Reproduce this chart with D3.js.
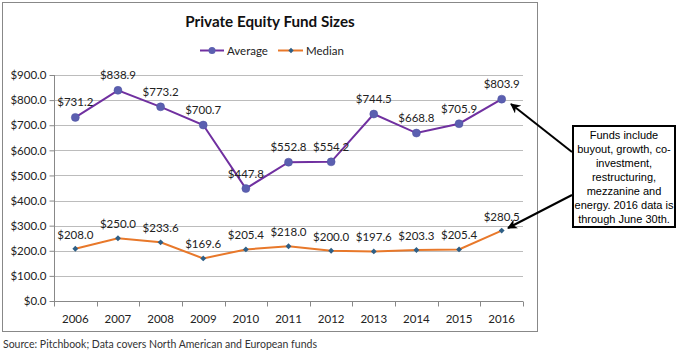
<!DOCTYPE html>
<html><head><meta charset="utf-8">
<script src="https://cdn.jsdelivr.net/npm/d3@7"></script>
<style>body{margin:0;background:#fff}svg{display:block}</style>
</head><body>
<script>
const years = ["2006","2007","2008","2009","2010","2011","2012","2013","2014","2015","2016"];
const average = [731.2,838.9,773.2,700.7,447.8,552.8,554.2,744.5,668.8,705.9,803.9];
const median = [208.0,250.0,233.6,169.6,205.4,218.0,200.0,197.6,203.3,205.4,280.5];
const yTicks = [0,100,200,300,400,500,600,700,800,900];
const noteLines = ["Funds include","buyout, growth, co-","investment,","restructuring,","mezzanine and","energy. 2016 data is","through June 30th."];

const W=679,H=353;
const svg=d3.select("body").append("svg").attr("width",W).attr("height",H);
const font="Lato, 'Open Sans', sans-serif";
svg.append("rect").attr("x",2.5).attr("y",2.5).attr("width",535).attr("height",329).attr("fill","#fff").attr("stroke","#888").attr("stroke-width",1);

const x=d3.scaleBand().domain(years).range([54,523]);
const y=d3.scaleLinear().domain([0,900]).range([301,75]);

// gridlines
svg.append("g").selectAll("line").data(yTicks.filter(d=>d>0)).join("line")
 .attr("x1",54).attr("x2",523).attr("y1",d=>Math.round(y(d))+0.5).attr("y2",d=>Math.round(y(d))+0.5)
 .attr("stroke","#bcbcbc");

// y axis
const ya=svg.append("g").attr("transform","translate(54.5,0)")
 .call(d3.axisLeft(y).tickValues(yTicks).tickSize(5).tickFormat(d=>"$"+d3.format(".1f")(d)));
ya.select(".domain").attr("stroke","#888").attr("d","M0,75V301.5");
ya.selectAll(".tick line").attr("stroke","#888");
ya.selectAll("text").attr("font-family",font).attr("font-size",11.5).attr("fill","#222").attr("x",-8);

// x axis
const xa=svg.append("g").attr("transform","translate(0,301.5)")
 .call(d3.axisBottom(x).tickSize(0).tickPadding(13));
xa.select(".domain").attr("stroke","#888").attr("d","M54,0H523");
xa.selectAll("text").attr("font-family",font).attr("font-size",11.5).attr("fill","#222");
xa.append("g").selectAll("line").data(years.map(d=>x(d)).concat([523])).join("line")
 .attr("x1",d=>Math.round(d)+0.5).attr("x2",d=>Math.round(d)+0.5).attr("y1",0).attr("y2",5).attr("stroke","#888");

const cx=d=>x(d)+x.bandwidth()/2;
const line=d3.line().x((d,i)=>cx(years[i])).y(d=>y(d));

// average
svg.append("path").datum(average).attr("d",line).attr("fill","none").attr("stroke","#7030A0").attr("stroke-width",2);
svg.append("g").selectAll("circle").data(average).join("circle")
 .attr("cx",(d,i)=>cx(years[i])).attr("cy",d=>y(d)).attr("r",4).attr("fill","#5B5FB0").attr("stroke","#4F53A0").attr("stroke-width",0.5);
svg.append("g").selectAll("text").data(average).join("text")
 .attr("x",(d,i)=>cx(years[i])).attr("y",d=>y(d)-11).attr("text-anchor","middle")
 .attr("font-family",font).attr("font-size",11.5).attr("fill","#222").text(d=>"$"+d3.format(".1f")(d));

// median
svg.append("path").datum(median).attr("d",line).attr("fill","none").attr("stroke","#E8782A").attr("stroke-width",2);
svg.append("g").selectAll("path").data(median).join("path")
 .attr("transform",(d,i)=>`translate(${cx(years[i])},${y(d)})`)
 .attr("d",d3.symbol(d3.symbolDiamond2,22)).attr("fill","#2E5F86");
svg.append("g").selectAll("text").data(median).join("text")
 .attr("x",(d,i)=>cx(years[i])).attr("y",d=>y(d)-10).attr("text-anchor","middle")
 .attr("font-family",font).attr("font-size",11.5).attr("fill","#222").text(d=>"$"+d3.format(".1f")(d));

// title
svg.append("text").attr("x",270).attr("y",27).attr("text-anchor","middle").attr("font-family",font)
 .attr("font-weight","bold").attr("font-size",15.2).attr("fill","#111").text("Private Equity Fund Sizes");

// legend
const lg=svg.append("g");
lg.append("line").attr("x1",200).attr("x2",224).attr("y1",50.5).attr("y2",50.5).attr("stroke","#7030A0").attr("stroke-width",2);
lg.append("circle").attr("cx",212).attr("cy",50.5).attr("r",3.5).attr("fill","#5B5FB0");
lg.append("text").attr("x",227).attr("y",54.5).attr("font-family",font).attr("font-size",11.5).attr("fill","#222").text("Average");
lg.append("line").attr("x1",278).attr("x2",303).attr("y1",50.5).attr("y2",50.5).attr("stroke","#E8782A").attr("stroke-width",2);
lg.append("path").attr("transform","translate(291,50.5)").attr("d",d3.symbol(d3.symbolDiamond2,18)).attr("fill","#2E5F86");
lg.append("text").attr("x",306).attr("y",54.5).attr("font-family",font).attr("font-size",11.5).attr("fill","#222").text("Median");

// source
svg.append("text").attr("x",3).attr("y",348).attr("font-family",font).attr("font-size",10.5).attr("fill","#333")
 .text("Source: Pitchbook; Data covers North American and European funds");

// annotation
const defs=svg.append("defs");
defs.append("marker").attr("id","ah").attr("viewBox","0 0 10 10").attr("refX",9).attr("refY",5)
 .attr("markerWidth",5).attr("markerHeight",5).attr("orient","auto")
 .append("path").attr("d","M0,0L10,5L0,10L3,5Z").attr("fill","#000");
svg.append("line").attr("x1",572).attr("y1",152).attr("x2",511).attr("y2",104).attr("stroke","#000").attr("stroke-width",2).attr("marker-end","url(#ah)");
svg.append("line").attr("x1",572).attr("y1",195).attr("x2",508).attr("y2",228).attr("stroke","#000").attr("stroke-width",2).attr("marker-end","url(#ah)");
svg.append("rect").attr("x",573).attr("y",126).attr("width",102).attr("height",101).attr("fill","#fff").attr("stroke","#000").attr("stroke-width",2);
svg.append("g").selectAll("text").data(noteLines).join("text")
 .attr("x",624).attr("y",(d,i)=>139+i*14).attr("text-anchor","middle")
 .attr("font-family","'Liberation Sans', Arial, sans-serif").attr("font-size",11).attr("fill","#000").text(d=>d);
</script>
</body></html>
